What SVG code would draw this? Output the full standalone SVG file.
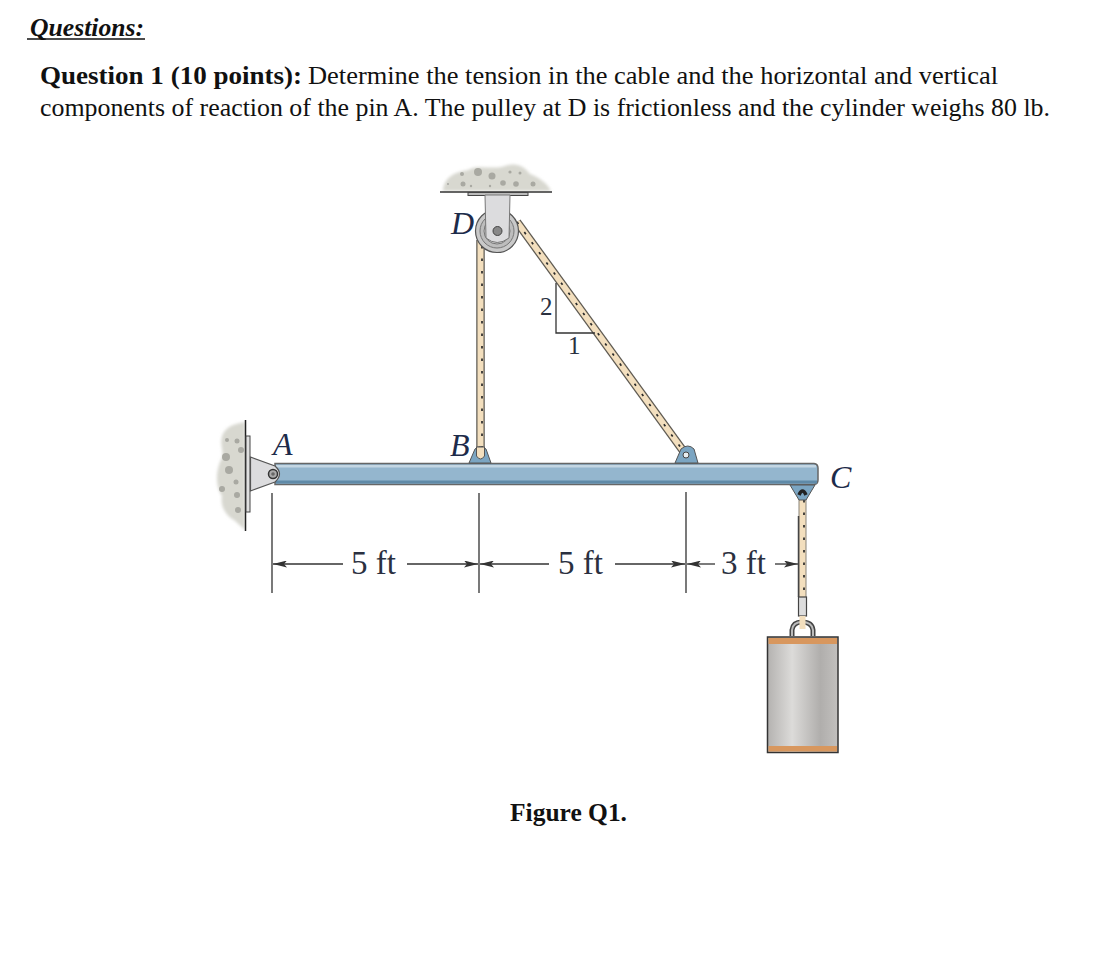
<svg xmlns="http://www.w3.org/2000/svg" width="1102" height="960" viewBox="0 0 1102 960">
<style>
.doc{font-family:"Liberation Serif","DejaVu Serif",serif;font-size:26px;fill:#111}
.b{font-weight:700}
.lab{font-family:"Liberation Serif",serif;font-style:italic;font-size:32px;fill:#1d2b4a}
.dim{font-family:"Liberation Serif",serif;font-size:33px;fill:#2a3040}
.small{font-family:"Liberation Serif",serif;font-size:25px;fill:#2a3040}
.dl{stroke:#333;stroke-width:1.3;fill:none}
.rope{stroke:#f3dfbe;stroke-width:6;fill:none}
.ropeo{stroke:#5e5a52;stroke-width:8.500;fill:none}
.roped{stroke:#2a2a2a;stroke-width:1.700;stroke-dasharray:2.500 10;fill:none}
.spot{fill:#a9a9a2}
</style>
<defs>
<marker id="ah" markerWidth="14" markerHeight="7" refX="14" refY="3.500" orient="auto-start-reverse" markerUnits="userSpaceOnUse"><path d="M0,0L14,3.500L0,7L3,3.500Z" fill="#333"/></marker>
<linearGradient id="cyl" x1="0" x2="1" y1="0" y2="0"><stop offset="0" stop-color="#b4b2b0"/><stop offset=".35" stop-color="#dcdbd9"/><stop offset=".75" stop-color="#b0aeac"/><stop offset="1" stop-color="#c2c0be"/></linearGradient>
<filter id="soft" x="-10%" y="-10%" width="120%" height="120%"><feGaussianBlur stdDeviation="1.5"/></filter>
<filter id="soft2" x="-10%" y="-10%" width="120%" height="120%"><feGaussianBlur stdDeviation="0.6"/></filter>
</defs>
<g id="question-text">
<text class="doc b" x="30" y="36" font-style="italic" textLength="114" lengthAdjust="spacingAndGlyphs">Questions:</text>
<line x1="27" y1="39" x2="145" y2="39" stroke="#111" stroke-width="1.6"/>
<text class="doc b" x="40" y="84" textLength="262" lengthAdjust="spacingAndGlyphs">Question 1 (10 points):</text>
<text class="doc" x="308" y="84" textLength="690" lengthAdjust="spacingAndGlyphs">Determine the tension in the cable and the horizontal and vertical</text>
<text class="doc" x="40" y="116" textLength="1010" lengthAdjust="spacingAndGlyphs">components of reaction of the pin A. The pulley at D is frictionless and the cylinder weighs 80 lb.</text>
<text class="doc b" x="510" y="821" textLength="117" lengthAdjust="spacingAndGlyphs">Figure Q1.</text>
</g>
<g id="ceiling">
<path d="M443,191C444,176 456,172 468,170C476,164 494,170 505,166C516,162 524,166 530,174C540,178 548,184 551,191Z" fill="#d8d8d0" filter="url(#soft)"/>
<g filter="url(#soft2)"><circle class="spot" cx="478" cy="172" r="4"/><circle class="spot" cx="492" cy="176" r="3.500"/><circle class="spot" cx="462" cy="174" r="2"/><circle class="spot" cx="463" cy="184" r="2.500"/><circle class="spot" cx="503" cy="183" r="2.800"/><circle class="spot" cx="516" cy="184" r="2.800"/><circle class="spot" cx="533" cy="184" r="2.500"/><circle class="spot" cx="510" cy="172" r="1.600"/><circle class="spot" cx="448" cy="184" r="1"/><circle class="spot" cx="471" cy="186" r="1.200"/><circle class="spot" cx="490" cy="186" r="1.200"/><circle class="spot" cx="520" cy="173" r="1.500"/></g>
<line x1="440" y1="192" x2="552" y2="192" stroke="#333" stroke-width="1.4"/>
<rect x="468" y="192.500" width="60" height="3" fill="#bbb" stroke="#444" stroke-width="1"/>
</g>
<g id="connectors">
<path class="ropeo" d="M480.500,240V456"/><path class="rope" d="M480.500,240V456"/><path class="roped" d="M482,246V456"/>
<path class="ropeo" d="M517,222L684,452"/><path class="rope" d="M517,222L684,452"/><path class="roped" d="M517,222L684,452"/>
<path d="M802.500,494V598" stroke="#8a8478" stroke-width="8" fill="none"/><path class="rope" d="M802.500,494V598"/><path class="roped" d="M804,500V598"/>
<path d="M798.500,516V597" stroke="#444" stroke-width="1.500" fill="none"/>
<path d="M556,283V333H595" stroke="#333" stroke-width="1.300" fill="none"/>
<path class="dl" d="M272,493V593M479,493V593M686,492V593"/>
<path class="dl" marker-start="url(#ah)" d="M273,564H343"/>
<path class="dl" marker-end="url(#ah)" d="M407,564H478"/>
<path class="dl" marker-start="url(#ah)" d="M480,564H549"/>
<path class="dl" marker-end="url(#ah)" d="M615,564H685"/>
<path class="dl" marker-start="url(#ah)" d="M687,564H715"/>
<path class="dl" marker-end="url(#ah)" d="M775,564H798"/>
</g>
<g id="pulley-D">
<circle cx="497" cy="231" r="21.500" fill="#c9c9c9" stroke="#555" stroke-width="1.200"/>
<circle cx="497" cy="231" r="17" fill="#bdbdbd" stroke="#777"/>
<circle cx="497" cy="231" r="13" fill="#d6d6d6" stroke="#777"/>
<path d="M485,195H510L509,238Q497,247 486,238Z" fill="#dcdcde" stroke="#777"/>
<circle cx="497.500" cy="231" r="4.500" fill="#888" stroke="#444"/>
<text class="lab" x="451" y="234">D</text>
</g>
<g id="wall-A">
<path d="M245,422C234,424 226,426 222,436C219,448 226,452 220,462C214,478 218,490 222,496C220,506 226,516 234,520L245,530Z" fill="#d8d8d0" filter="url(#soft)"/>
<g filter="url(#soft2)"><circle class="spot" cx="226" cy="457" r="4"/><circle class="spot" cx="229" cy="470" r="4"/><circle class="spot" cx="236" cy="482" r="2.500"/><circle class="spot" cx="222" cy="489" r="3"/><circle class="spot" cx="237" cy="495" r="3"/><circle class="spot" cx="238" cy="510" r="3"/><circle class="spot" cx="237" cy="441" r="2.500"/><circle class="spot" cx="227" cy="440" r="2"/><circle class="spot" cx="241" cy="450" r="3"/></g>
<line x1="245.500" y1="420" x2="245.500" y2="531" stroke="#222" stroke-width="1.500"/>
<rect x="246" y="436" width="4" height="76" fill="#e0e0e0" stroke="#444"/>
</g>
<g id="beam">
<path d="M275,463.500H814Q818,464 818,468V480Q818,484 814,484.500H275Z" fill="#94b6ce" stroke="#666" stroke-width="1.500"/>
<rect x="276" y="465" width="540" height="2.500" fill="#c3d6e3"/>
<rect x="276" y="480.500" width="541" height="3" fill="#5f8aa8"/>
</g>
<g id="pin-A">
<path d="M250.500,457L275,466Q284,474 275,482L250.500,491Z" fill="#dcdcde" stroke="#555" stroke-width="1.200"/>
<circle cx="273" cy="474" r="4.500" fill="#aaa" stroke="#333" stroke-width="1.500"/>
<circle cx="273" cy="474" r="1.800" fill="#666"/>
<text class="lab" x="273" y="455">A</text>
</g>
<g id="bracket-B">
<path d="M469,463L475,449Q480,444 486,449L491,463Z" fill="#7ba5c2" stroke="#555"/>
<path d="M476.500,447V456Q480.500,462 484.500,456V447Z" fill="#f3dfbe" stroke="#555"/>
<text class="lab" x="450" y="456">B</text>
</g>
<g id="bracket-E">
<path d="M675,463L681,449Q688,443 694,449L698,463Z" fill="#7ba5c2" stroke="#555"/>
<circle cx="686" cy="455" r="3" fill="#e8eef2" stroke="#444"/>
</g>
<g id="bracket-C">
<path d="M790,485H815L806,500H799Z" fill="#7ba5c2" stroke="#555"/>
<path d="M799,495Q802.500,487 806,495" stroke="#222" stroke-width="3.500" fill="none"/>
<text class="lab" x="830" y="488">C</text>
</g>
<g id="cylinder">
<rect x="798.500" y="597" width="8" height="19" fill="#ddd" stroke="#444" stroke-width="1.200"/>
<path d="M792,636V630Q793,622 802,622Q812,622 813,630V636" fill="none" stroke="#444" stroke-width="5"/>
<path d="M792,636V630Q793,622 802,622Q812,622 813,630V636" fill="none" stroke="#bbb" stroke-width="2"/>
<rect x="799.500" y="616" width="6" height="13" fill="#f3dfbe"/>
<rect x="767.500" y="637" width="70.500" height="115.500" fill="url(#cyl)" stroke="#333" stroke-width="1.500"/>
<rect x="768.500" y="638" width="68.500" height="6" fill="#d8975e"/>
<rect x="768.500" y="746" width="68.500" height="5.500" fill="#d8975e"/>
</g>
<g id="dimension-labels">
<text class="dim" x="351" y="574">5 ft</text>
<text class="dim" x="558" y="574">5 ft</text>
<text class="dim" x="721" y="574">3 ft</text>
<text class="small" x="540" y="315">2</text>
<text class="small" x="568" y="354">1</text>
</g>
</svg>
